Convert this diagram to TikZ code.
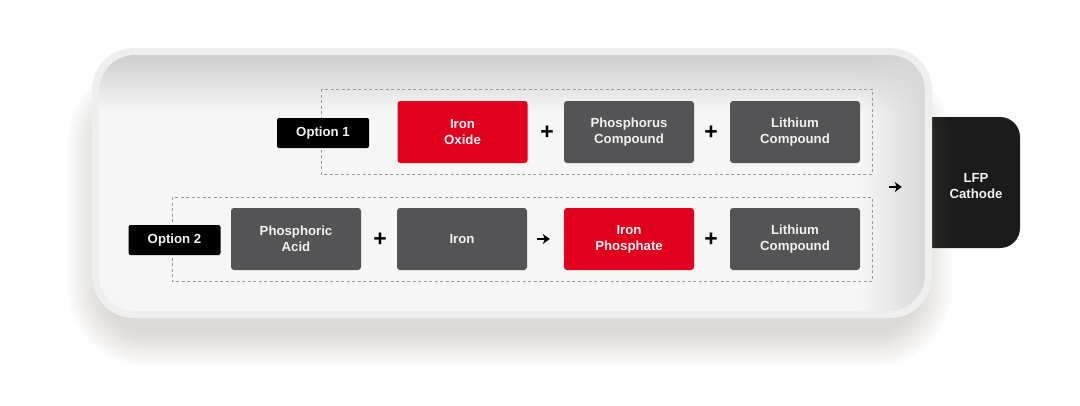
\documentclass[tikz,border=0pt]{standalone}
\usepackage{fontspec}
\setmainfont{Liberation Sans}
\usetikzlibrary{positioning,arrows.meta,fadings}
\definecolor{chemgray}{HTML}{545456}
\definecolor{lfpred}{HTML}{E1001E}
\definecolor{lfpblack}{HTML}{1B1B1B}
\definecolor{trayrim}{HTML}{EEEEEE}
\definecolor{trayfloor}{HTML}{F6F6F6}
\definecolor{traywall}{HTML}{CDCDCD}
\definecolor{dashgray}{HTML}{999999}
\definecolor{shadowtan}{HTML}{8A7A6E}
\tikzfading[name=wallfade, left color=transparent!100, right color=transparent!0]

\begin{document}
\begin{tikzpicture}[x=1pt,y=-1pt,
  every node/.style={font=\bfseries\fontsize{13.2}{16}\selectfont, text=white!95!black, align=center},
  chem/.style={fill=chemgray, rounded corners=3pt, minimum width=130pt, minimum height=62pt},
  keychem/.style={chem, fill=lfpred},
  optlabel/.style={fill=black, rounded corners=2pt, minimum width=92pt, minimum height=30pt},
  opsign/.style={text=black, font=\bfseries\fontsize{23}{23}\selectfont, inner sep=0pt},
  oparrow/.style={line width=2.8pt, -{Stealth[length=7pt,width=10pt,inset=2pt]}},
  dashbox/.style={draw=dashgray, dash pattern=on 3pt off 2.5pt, line width=0.8pt}]
\fill[white] (0,0) rectangle (1080,405);
\useasboundingbox (0,0) rectangle (1080,405);
% cathode tab, its left side hides under the tray
\fill[lfpblack, rounded corners=20pt] (900,117) rectangle (1020,248);
% soft shadow of the tray
\foreach \r in {3,6,...,36}
  \fill[shadowtan, opacity=0.025, rounded corners=42pt+\r pt]
    (104-\r,100-\r) rectangle (916+\r,330+\r);
\fill[trayrim, rounded corners=42pt] (92,48) rectangle (932,318);
\begin{scope}
\clip[rounded corners=36pt] (99,55) rectangle (925,311);
\fill[trayfloor] (99,55) rectangle (925,311);
\shade[top color=traywall, bottom color=trayfloor] (99,55) rectangle (925,112);
\fill[traywall!70!trayfloor, path fading=wallfade] (860,55) rectangle (925,311);
\end{scope}

\draw[dashbox] (321,89) rectangle (872,174);
\draw[dashbox] (172,197) rectangle (872,281);

% option 1
\node[optlabel] (opt1) at (323,133) {Option 1};
\node[keychem] (ironox) at (462.5,132) {Iron\\Oxide};
\node[opsign] (plusa) at (547,133) {+};
\node[chem] (phoscomp) at (629,132) {Phosphorus\\Compound};
\node[opsign] (plusb) at (711,133) {+};
\node[chem] (licompa) at (795,132) {Lithium\\Compound};

% option 2
\node[optlabel] (opt2) at (174.5,240) {Option 2};
\node[chem] (phosacid) at (296,239) {Phosphoric\\Acid};
\node[opsign] (plusc) at (380,240) {+};
\node[chem] (iron) at (462,239) {Iron};
\node[keychem] (ironphos) at (629,239) {Iron\\Phosphate};
\node[opsign] (plusd) at (711,240) {+};
\node[chem] (licompb) at (795,239) {Lithium\\Compound};
\draw[oparrow, shorten <=10pt, shorten >=14pt] (iron) -- (ironphos);

\node[minimum width=88pt] (lfp) at (976,186) {LFP\\Cathode};
\coordinate (merge) at (872,187);
\draw[oparrow, shorten <=17pt, shorten >=30pt] (merge) -- (merge -| lfp.west);
\end{tikzpicture}
\end{document}
